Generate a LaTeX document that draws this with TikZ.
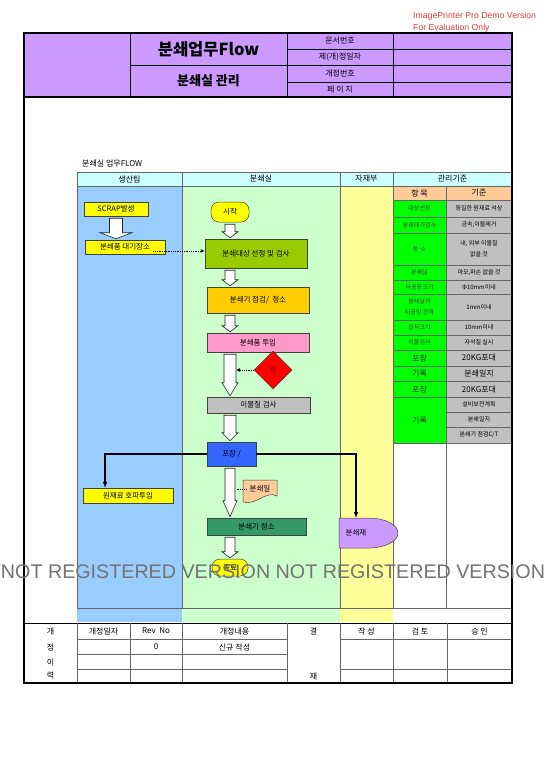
\documentclass[tikz,border=0pt]{standalone}
\usepackage{fontspec}
\setmainfont{Noto Sans CJK KR}
\newfontfamily\wmfont{Liberation Sans}
\usetikzlibrary{shapes.geometric,arrows.meta,calc}

\definecolor{hdrpurple}{HTML}{CC99FF}
\definecolor{hdrcyan}{HTML}{CCFFFF}
\definecolor{laneblue}{HTML}{99CCFF}
\definecolor{lanegreen}{HTML}{CCFFCC}
\definecolor{laneyellow}{HTML}{FFFF99}
\definecolor{boxyellow}{HTML}{FFFF00}
\definecolor{boxolive}{HTML}{99CC00}
\definecolor{boxorange}{HTML}{FFCC00}
\definecolor{boxpink}{HTML}{FF99CC}
\definecolor{boxgray}{HTML}{C0C0C0}
\definecolor{boxblue}{HTML}{3366FF}
\definecolor{boxdkgreen}{HTML}{339966}
\definecolor{boxpeach}{HTML}{FFCC99}
\definecolor{cellgreen}{HTML}{00FF00}
\definecolor{wmred}{HTML}{E03C3C}

% fat white arrow: from, to, x-reference, shaft half width, head half width, head length
\newcommand{\fatarrow}[6]{%
  \draw[fatarr] let \p1=(#1.south), \p2=(#2.north), \p3=(#3) in
    (\x3-#4pt,\y1-2pt) -- (\x3+#4pt,\y1-2pt) -- (\x3+#4pt,\y2+#6pt+1pt)
    -- (\x3+#5pt,\y2+#6pt+1pt) -- (\x3,\y2+1pt) -- (\x3-#5pt,\y2+#6pt+1pt)
    -- (\x3-#4pt,\y2+#6pt+1pt) -- cycle;}

\begin{document}
\begin{tikzpicture}[x=1pt,y=-1pt,
  every node/.style={inner sep=0pt, font=\fontsize{7.5}{9}\selectfont},
  box/.style={draw=black!75, line width=0.5pt},
  grid/.style={draw=black!60, line width=0.4pt},
  fatarr/.style={draw=black!85, fill=white, line width=0.6pt},
  dotarrow/.style={densely dotted, line width=0.8pt, -{Latex[length=4pt,width=4pt]}},
  flowline/.style={line width=1.4pt, -{Latex[length=6pt,width=5pt]}},
  small/.style={font=\fontsize{6}{8}\selectfont},
  hdr/.style={font=\fontsize{8}{9}\selectfont}]
\useasboundingbox (0,0) rectangle (550,778);
\fill[white] (0,0) rectangle (550,778);

% demo stamp
\node[anchor=west, text=wmred, font=\wmfont\fontsize{8.7}{9}\selectfont] (stamp1) at (413,16) {ImagePrinter Pro Demo Version};
\node[anchor=west, text=wmred, font=\wmfont\fontsize{8.7}{9}\selectfont] (stamp2) at (413,28) {For Evaluation Only};

% header
\fill[hdrpurple] (24,33) rectangle (512,97);
\draw[line width=0.9pt] (130,33) -- (130,97) (287,33) -- (287,97) (393,33) -- (393,97);
\draw[line width=0.9pt] (130,65) -- (512,65) (287,49) -- (512,49) (287,82) -- (512,82);
\draw[line width=1.2pt] (24,97) -- (512,97);
\node[font=\fontsize{16.5}{18}\selectfont\bfseries] (title) at (208.5,49) {분쇄업무Flow};
\node[font=\fontsize{13}{15}\selectfont\bfseries] (subtitle) at (208.5,81) {분쇄실 관리};
\node[hdr] (docno) at (340,41) {문서번호};
\node[hdr] (docdate) at (340,57) {제(개)정일자};
\node[hdr] (revno) at (340,73.5) {개정번호};
\node[hdr] (page) at (340,89.5) {페 이 지};

% flow table
\node[anchor=west, font=\fontsize{8}{9}\selectfont] (flowtitle) at (82,164) {분쇄실 업무FLOW};
\fill[laneblue] (77,186) rectangle (182,622);
\fill[lanegreen] (182,186) rectangle (340,622);
\fill[laneyellow] (340,186) rectangle (393,622);
\fill[hdrcyan] (77,172) rectangle (512,186);
\draw[grid] (77,172) rectangle (512,608);
\draw[grid] (77,186) -- (512,186);
\draw[grid] (182,172) -- (182,608) (340,172) -- (340,608) (393,172) -- (393,608) (446,186) -- (446,608);
\node[hdr] (lane1) at (129.5,179) {생산팀};
\node[hdr] (lane2) at (261,179) {분쇄실};
\node[hdr] (lane3) at (366.5,179) {자재부};
\node[hdr] (lane4) at (452.5,179) {관리기준};

% criteria table
\filldraw[fill=boxpeach, grid] (393,186) rectangle (446,200);
\filldraw[fill=boxpeach, grid] (446,186) rectangle (512,200);
\node[hdr] (item) at (419.5,193) {항 목};
\node[hdr] (crit) at (479,193) {기준};
\foreach \ya/\yb/\ta/\tb in {200/217/대상선정/동일한 원재료 석상,
    217/233/분쇄대기검사/{금속,이물제거},
    233/265/청\ \ 소/{내, 외부 이물질\\[3pt]없을 것},
    265/280/분쇄날/{마모,파손 없을 것},
    280/294/타공망크기/Φ10mm이내,
    294/320/{분쇄날과\\[3pt]타공망 간격}/1mm이내,
    320/335/입자크기/10mm이내,
    335/350/이물검사/자석질 실시}{
  \filldraw[fill=cellgreen, grid] (393,\ya) rectangle (446,\yb);
  \filldraw[fill=boxgray, grid] (446,\ya) rectangle (512,\yb);
  \node[small, align=center, text=black!75] at (419.5,{(\ya+\yb)/2}) {\ta};
  \node[small, align=center] at (479,{(\ya+\yb)/2}) {\tb};
}
\foreach \ya/\yb/\ta/\tb in {350/366/포장/20KG포대, 366/381/기록/분쇄일지, 381/397/포장/20KG포대}{
  \filldraw[fill=cellgreen, grid] (393,\ya) rectangle (446,\yb);
  \filldraw[fill=boxgray, grid] (446,\ya) rectangle (512,\yb);
  \node[hdr, text=black!80] at (419.5,{(\ya+\yb)/2}) {\ta};
  \node[hdr] at (479,{(\ya+\yb)/2}) {\tb};
}
\filldraw[fill=cellgreen, grid] (393,397) rectangle (446,443);
\node[hdr, text=black!80] (rec) at (419.5,420) {기록};
\filldraw[fill=boxgray, grid] (446,397) rectangle (512,412);
\filldraw[fill=boxgray, grid] (446,412) rectangle (512,427);
\filldraw[fill=boxgray, grid] (446,427) rectangle (512,443);
\node[small] (rec1) at (479,404.5) {설비보전계획};
\node[small] (rec2) at (479,419.5) {분쇄일지};
\node[small] (rec3) at (479,435) {분쇄기 점검C/T};

% flow nodes
\node[box, fill=boxyellow, minimum width=64pt, minimum height=14pt] (scrap) at (116,209) {SCRAP발생};
\node[box, fill=boxyellow, minimum width=80pt, minimum height=14pt] (wait) at (125,247) {분쇄품 대기장소};
\node[box, fill=boxyellow, rounded corners=8pt, minimum width=38pt, minimum height=20pt] (start) at (230,212) {시작};
\node[box, fill=boxolive, minimum width=102pt, minimum height=29pt] (select) at (256,253.5) {분쇄대상 선정 및 검사};
\node[box, fill=boxorange, minimum width=102pt, minimum height=26pt] (check) at (258,300) {분쇄기 점검/\ \ 청소};
\node[box, fill=boxpink, minimum width=102pt, minimum height=19pt] (feed) at (258,342.5) {분쇄품 투입};
\node[box, diamond, aspect=1, fill=red, minimum size=38pt, text=red!45!black] (fault) at (273,370) {일};
\node[box, fill=boxgray, minimum width=103pt, minimum height=16pt] (foreign) at (258.5,405) {이물질 검사};
\node[box, fill=boxblue, minimum width=49pt, minimum height=24pt] (pack) at (231.5,454) {포장 /};
\node[box, fill=boxyellow, minimum width=90pt, minimum height=15pt] (raw) at (128,495.5) {원재료 호파투입};
\filldraw[fill=boxpeach, draw=black!75, line width=0.5pt] (243,480) -- (277,480) -- (277,496)
  .. controls (266,490) and (256,506) .. (243,502) -- cycle;
\node (log) at (260,489) {분쇄일};
\node[box, fill=boxdkgreen, minimum width=99pt, minimum height=17pt] (clean) at (256.5,526.5) {분쇄기 청소};
\node[box, fill=boxyellow, rounded corners=8pt, minimum width=36pt, minimum height=17pt] (end) at (230,567.5) {종료};
\filldraw[fill=hdrpurple, draw=black!75, line width=0.5pt] (339,548) -- (339,518) -- (369,518)
  arc[start angle=90, end angle=-90, x radius=29pt, y radius=15pt] -- cycle;
\node (stock) at (356,533) {분쇄재};

% connectors
\fatarrow{scrap}{wait}{scrap}{6.5}{16}{6}
\fatarrow{start}{select}{start}{5}{8}{6}
\fatarrow{select}{check}{start}{5}{8}{6}
\fatarrow{check}{feed}{start}{5}{8}{6}
\fatarrow{feed}{foreign}{start}{6}{8}{13}
\fatarrow{foreign}{pack}{start}{6}{8}{8}
\fatarrow{pack}{clean}{start}{5}{7}{16}
\fatarrow{clean}{end}{start}{5}{8}{6}
\coordinate (waitout) at ([yshift=-4pt]wait.east);
\draw[dotarrow] ([xshift=-12pt]waitout) -- (waitout -| select.west);
\draw[dotarrow] (fault.west) -- ([xshift=6pt]fault.west -| start);
\draw[densely dotted, line width=0.8pt] (log.west) ++(-3pt,0) -- ([xshift=6pt]log.west -| start);
\draw[flowline] (pack.west) -| ([xshift=-23pt]raw.north);
\draw[flowline] (pack.east) -| (stock.north |- 0,518);

% revision table
\draw[line width=0.8pt] (24,623) -- (512,623);
\draw[grid] (77,639) -- (287,639) (340,639) -- (512,639)
  (77,654) -- (287,654)
  (77,669) -- (287,669) (340,669) -- (512,669);
\draw[grid] (77,623) -- (77,683) (130,623) -- (130,683) (182,623) -- (182,683)
  (287,623) -- (287,683) (340,623) -- (340,683) (393,623) -- (393,683) (447,623) -- (447,683);
\node[hdr] (rev1) at (50.5,631) {개};
\node[hdr] (rev2) at (50.5,647) {정};
\node[hdr] (rev3) at (50.5,662) {이};
\node[hdr] (rev4) at (50.5,676) {력};
\node[hdr] (colDate) at (103.5,631) {개정일자};
\node[hdr] (colNo) at (156,631) {Rev\ \ No};
\node[hdr] (colText) at (234.5,631) {개정내용};
\node[hdr] (sign1) at (313.5,631) {결};
\node[hdr] (sign2) at (313.5,676) {재};
\node[hdr] (colMake) at (366.5,631) {작 성};
\node[hdr] (colCheck) at (420,631) {검 토};
\node[hdr] (colOk) at (479.5,631) {승 인};
\node[hdr] (rev0) at (156,647) {0};
\node[hdr] (revNew) at (234.5,647) {신규 작성};

% outer frame
\draw[line width=1.2pt] (24,33) rectangle (512,683);

% watermark
\node[text=black!55, font=\wmfont\fontsize{19.7}{22}\selectfont] (wm) at (273,572) {NOT REGISTERED VERSION NOT REGISTERED VERSION};
\end{tikzpicture}
\end{document}
